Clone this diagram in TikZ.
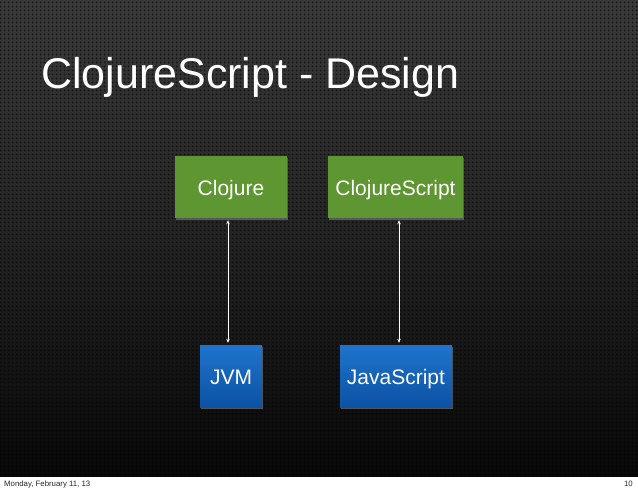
\documentclass[tikz,border=0pt]{standalone}
\usepackage{fontspec}
\setmainfont{Liberation Sans}
\usetikzlibrary{arrows.meta,patterns,shadows}
\definecolor{cljgreen}{HTML}{5E9632}
\definecolor{jstop}{HTML}{1F74CC}
\definecolor{jsbot}{HTML}{0C52A4}
\definecolor{bgtop}{HTML}{3A3A3A}
\definecolor{bgbot}{HTML}{080808}
\pgfdeclarepatternformonly{carbon}{\pgfpointorigin}{\pgfpoint{4pt}{4pt}}{\pgfpoint{4pt}{4pt}}{%
  \pgfpathcircle{\pgfpoint{2pt}{2pt}}{1.25pt}\pgfusepath{fill}}
\tikzset{
  boxtext/.style={text=white, font=\fontsize{21}{24}\selectfont, inner sep=0pt, text height=17pt, text depth=0pt, drop shadow={opacity=0.6, shadow xshift=1pt, shadow yshift=-1.5pt}},
  greenbox/.style={boxtext, fill=cljgreen},
  bluebox/.style={boxtext, top color=jstop, bottom color=jsbot},
  link/.style={white, line width=0.8pt, {Stealth[length=4pt,width=3.5pt]}-{Stealth[length=4pt,width=3.5pt]}, shorten <=2pt, shorten >=2pt},
}
\begin{document}
\begin{tikzpicture}[x=1pt,y=-1pt]
\useasboundingbox (0,0) rectangle (638,491);
% background slide
\shade[top color=bgtop, bottom color=bgbot, middle color=bgtop!55!bgbot] (0,0) rectangle (638,477);
\fill[pattern=carbon, pattern color=black, opacity=0.55] (0,0) rectangle (638,477);
% footer strip
\fill[white] (0,477) rectangle (638,491);
% title
\node[anchor=base west, text=white, font=\fontsize{43}{48}\selectfont, inner sep=0pt] (title) at (41,88) {ClojureScript - Design};
% boxes
\node[greenbox, minimum width=112pt, minimum height=62pt] (clj) at (231,187) {Clojure};
\node[greenbox, minimum width=135pt, minimum height=62pt] (cljs) at (395.5,187) {ClojureScript};
\node[bluebox, minimum width=62pt, minimum height=62pt] (jvm) at (231,376) {JVM};
\node[bluebox, minimum width=112pt, minimum height=62pt] (js) at (396,376) {JavaScript};
% connectors
\draw[link] (clj.south -| 228,0) -- (jvm.north -| 228,0);
\draw[link] (cljs.south -| 399,0) -- (js.north -| 399,0);
% footer
\node[anchor=base west, font=\fontsize{7.8}{9}\selectfont, text=black!85, inner sep=0pt] (date) at (4,486.5) {Monday, February 11, 13};
\node[anchor=base east, font=\fontsize{7.8}{9}\selectfont, text=black!85, inner sep=0pt] (page) at (633,486.5) {10};
\end{tikzpicture}
\end{document}
